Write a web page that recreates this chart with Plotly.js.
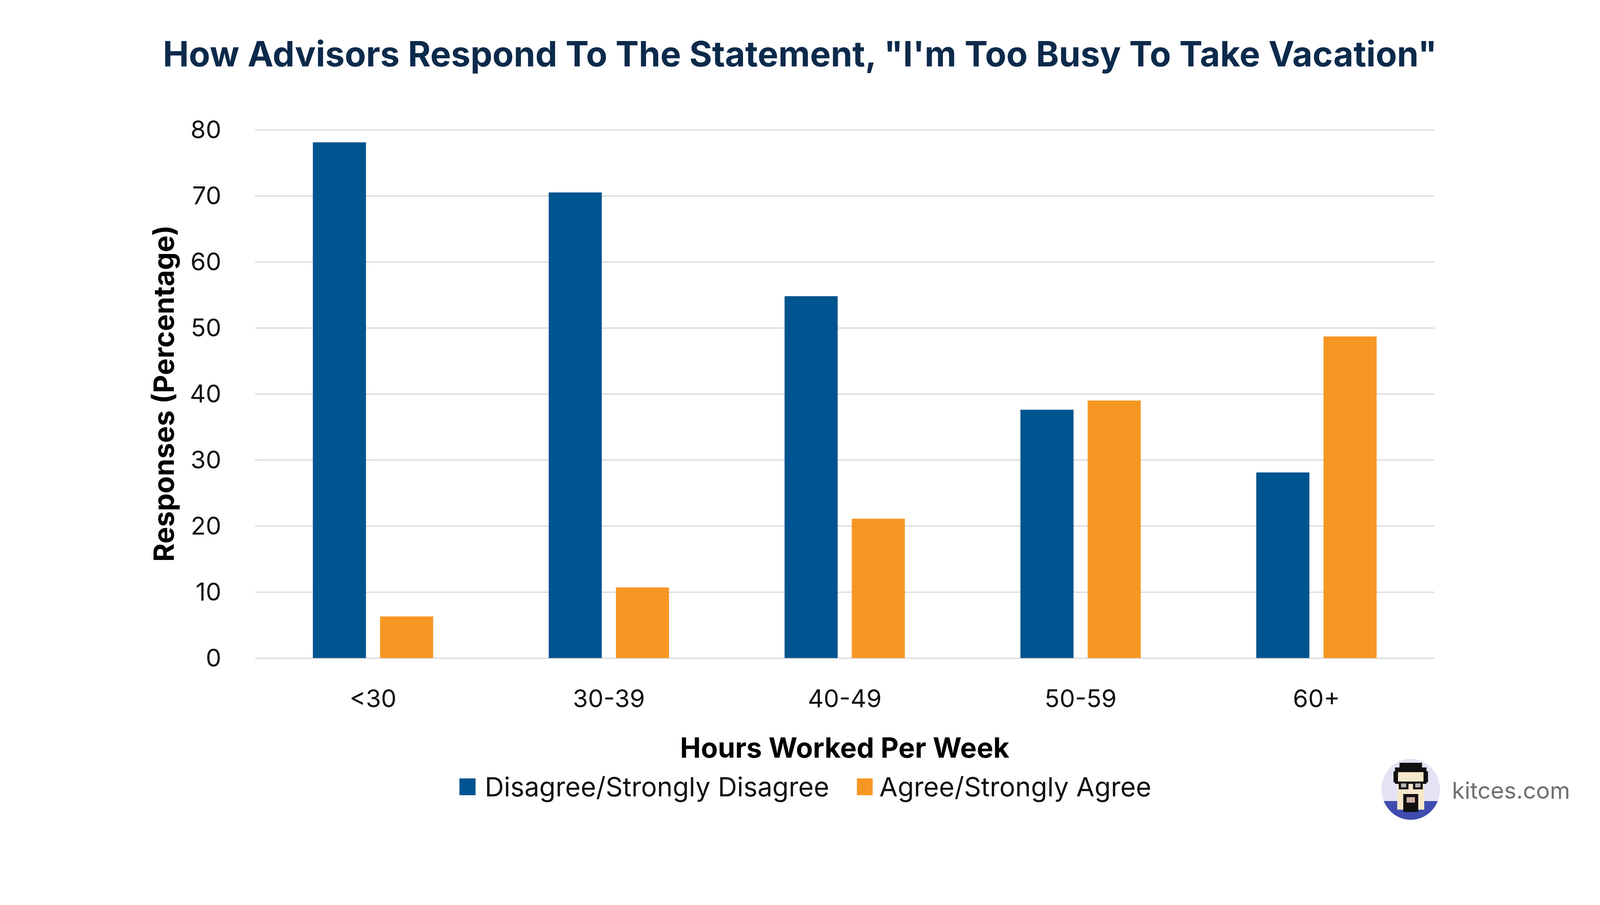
<!DOCTYPE html>
<html>
<head>
<meta charset="utf-8">
<script src="https://cdn.plot.ly/plotly-3.0.1.min.js"></script>
<style>html,body{margin:0;padding:0;background:#fff;overflow:hidden;}</style>
</head>
<body>
<div id="chart"></div>
<script>
const categories = ["<30", "30-39", "40-49", "50-59", "60+"];
const disagreeValues = [78.1, 70.5, 54.8, 37.6, 28.1];
const agreeValues = [6.3, 10.7, 21.1, 39.0, 48.7];
const yTickValues = [0, 10, 20, 30, 40, 50, 60, 70, 80];
const seriesNames = ["Disagree/Strongly Disagree", "Agree/Strongly Agree"];
const seriesColors = ["#00548f", "#f79723"];

// size the figure to the real viewport; layout measured on a 4267x2316 reference
const W = window.innerWidth || 4267, H = window.innerHeight || 2316;
const sx = W / 4267, sy = H / 2316;
const X = v => v * sx, Y = v => v * sy;
const L = X(680), R = X(3825), T = Y(330), B = Y(1684);
const px = x => (X(x) - L) / (R - L);
const py = y => (B - Y(y)) / (B - T);
const FONT = "Inter, 'Open Sans', sans-serif";

document.getElementById('chart').style.width = W + 'px';
document.getElementById('chart').style.height = H + 'px';

const traces = [
  {type: 'bar', name: seriesNames[0], x: categories, y: disagreeValues, marker: {color: seriesColors[0]}, showlegend: false},
  {type: 'bar', name: seriesNames[1], x: categories, y: agreeValues, marker: {color: seriesColors[1]}, showlegend: false}
];

function rect(x0, y0, x1, y1, color, type) {
  return {type: type || 'rect', xref: 'paper', yref: 'paper', x0: px(x0), x1: px(x1), y0: py(y1), y1: py(y0),
          fillcolor: color, line: {width: 0}, layer: 'above'};
}
// avatar (logo) centred at (cx, cy), reference pixel units
const cx = 3762, cy = 2020, r = 78;
const a = (dx0, dy0, dx1, dy1, c, t) => rect(cx + dx0, cy + dy0, cx + dx1, cy + dy1, c, t);
// shirt: lower segment of the avatar circle
function shirtPath() {
  const cut = 30; // px below centre
  const th0 = Math.asin(cut / r);
  const pts = [];
  for (let i = 0; i <= 24; i++) {
    const th = th0 + (Math.PI - 2 * th0) * i / 24;
    pts.push([cx + r * Math.cos(th), cy + r * Math.sin(th)]);
  }
  return 'M' + pts.map(p => px(p[0]).toFixed(5) + ',' + py(p[1]).toFixed(5)).join('L') + 'Z';
}
const shapes = [
  a(-r, -r, r, r, '#e4e2f4', 'circle'),
  {type: 'path', xref: 'paper', yref: 'paper', path: shirtPath(), fillcolor: '#3f4caf', line: {width: 0}, layer: 'above'},
  a(-36, -52, 36, 52, '#f7e8cc'),
  a(-30, -68, 30, -54, '#111111'),
  a(-42, -56, 42, -44, '#111111'),
  a(-46, -46, -34, -18, '#111111'),
  a(34, -46, 46, -18, '#111111'),
  a(-42, -20, 42, -14, '#111111'),
  a(-32, -20, -6, 0, '#111111'),
  a(6, -20, 32, 0, '#111111'),
  a(-26, -15, -12, -5, '#b9b5b5'),
  a(12, -15, 26, -5, '#b9b5b5'),
  a(-20, 12, 20, 58, '#111111'),
  a(-11, 20, 11, 34, '#cdb2a3'),
  // legend swatches
  rect(1225, 1992, 1268, 2035, seriesColors[0]),
  rect(2285, 1992, 2327, 2035, seriesColors[1])
];

const layout = {
  width: W, height: H,
  paper_bgcolor: '#ffffff', plot_bgcolor: '#ffffff',
  margin: {l: L, r: W - R, t: T, b: H - B, pad: 0},
  title: {
    text: 'How Advisors Respond To The Statement, "I\'m Too Busy To Take Vacation"',
    font: {family: FONT, size: 89, color: '#0c2a4b', weight: 700},
    x: 0.5, xanchor: 'center', y: 1 - Y(139) / H, yanchor: 'middle'
  },
  barmode: 'group', bargap: 0.43, bargroupgap: 0.21,
  xaxis: {
    type: 'category', range: [-0.5, 4.5],
    showgrid: false, showline: false, zeroline: false,
    ticks: 'outside', ticklen: 49, tickcolor: 'rgba(0,0,0,0)',
    tickfont: {family: FONT, size: 63, color: '#111111'},
    title: {text: 'Hours Worked Per Week', standoff: 65,
            font: {family: FONT, size: 71, color: '#000000', weight: 700}}
  },
  yaxis: {
    range: [0, 80.12], tickvals: yTickValues, ticktext: yTickValues.map(String),
    showgrid: true, gridcolor: '#d9d9d9', gridwidth: 3,
    zeroline: true, zerolinecolor: '#d9d9d9', zerolinewidth: 3, showline: false,
    ticks: 'outside', ticklen: X(76), tickcolor: 'rgba(0,0,0,0)',
    tickfont: {family: FONT, size: 63, color: '#111111'},
    title: {text: 'Responses (Percentage)', standoff: 16,
            font: {family: FONT, size: 72, color: '#000000', weight: 700}}
  },
  showlegend: false,
  shapes: shapes,
  annotations: [
    {xref: 'paper', yref: 'paper', x: px(1290), y: py(2013), xanchor: 'left', yanchor: 'middle',
     text: seriesNames[0], showarrow: false, font: {family: FONT, size: 68, color: '#111111'}},
    {xref: 'paper', yref: 'paper', x: px(2343), y: py(2013), xanchor: 'left', yanchor: 'middle',
     text: seriesNames[1], showarrow: false, font: {family: FONT, size: 68, color: '#111111'}},
    {xref: 'paper', yref: 'paper', x: px(3870), y: py(2022), xanchor: 'left', yanchor: 'middle',
     text: 'kitces.com', showarrow: false, font: {family: FONT, size: 59, color: '#6b7073'}}
  ]
};

Plotly.newPlot('chart', traces, layout, {staticPlot: true});
</script>
</body>
</html>
